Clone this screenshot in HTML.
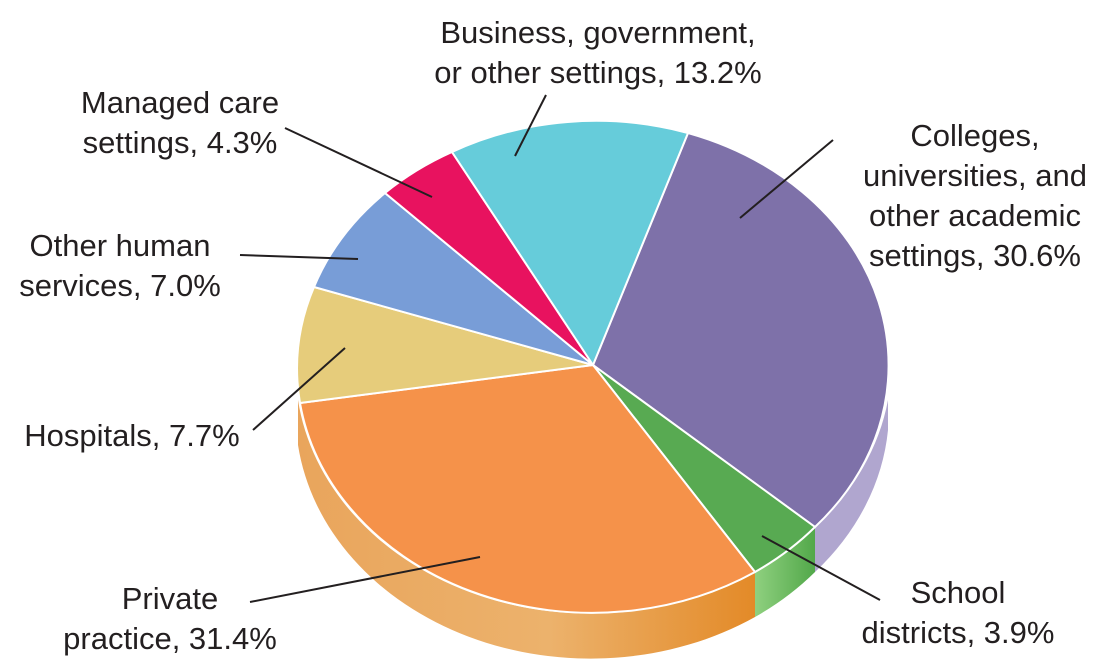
<!DOCTYPE html>
<html><head><meta charset="utf-8"><style>
body{margin:0;background:#fff;width:1099px;height:664px;overflow:hidden}
text{font-family:"Liberation Sans",sans-serif;font-size:31px;fill:#231f20}
</style></head><body>
<svg width="1099" height="664" viewBox="0 0 1099 664">
<defs>
<linearGradient id="og" x1="298" y1="0" x2="755" y2="0" gradientUnits="userSpaceOnUse">
<stop offset="0" stop-color="#e9a55c"/><stop offset="0.55" stop-color="#ecb26c"/><stop offset="1" stop-color="#e38a28"/></linearGradient>
<linearGradient id="gg" x1="755" y1="0" x2="815" y2="0" gradientUnits="userSpaceOnUse">
<stop offset="0" stop-color="#8fd07f"/><stop offset="1" stop-color="#52a84a"/></linearGradient>
</defs>
<path d="M298,400 A295,245 0 0 0 755,572 L755,617 A295,245 0 0 1 298,445 Z" fill="url(#og)"/>
<path d="M755,572 A295,245 0 0 0 815,527 L815,572 A295,245 0 0 1 755,617 Z" fill="url(#gg)"/>
<path d="M815,527 A295,245 0 0 0 888,400 L888,430 A295,245 0 0 1 815,572 Z" fill="#b0a6cf"/>
<g stroke="#fff" stroke-width="2">
<path d="M593,365 L688,133 A295,245 0 0 1 815,527 Z" fill="#7e71a9"/>
<path d="M593,365 L815,527 A295,245 0 0 1 755,572 Z" fill="#58aa52"/>
<path d="M593,365 L755,572 A295,245 0 0 1 300,403 Z" fill="#f5924a"/>
<path d="M593,365 L300,403 A295,245 0 0 1 314,287 Z" fill="#e6cc7b"/>
<path d="M593,365 L314,287 A295,245 0 0 1 385,193 Z" fill="#789dd7"/>
<path d="M593,365 L385,193 A295,245 0 0 1 452,152 Z" fill="#e8125f"/>
<path d="M593,365 L452,152 A295,245 0 0 1 688,133 Z" fill="#66ccda"/>
</g>
<g stroke="#231f20" stroke-width="2">
<line x1="515" y1="156" x2="546" y2="95"/>
<line x1="285" y1="128" x2="432" y2="197"/>
<line x1="240" y1="255" x2="358" y2="259"/>
<line x1="253" y1="430" x2="345" y2="348"/>
<line x1="250" y1="602" x2="480" y2="557"/>
<line x1="762" y1="536" x2="880" y2="600"/>
<line x1="740" y1="218" x2="833" y2="140"/>
</g>
<text x="598" y="43" text-anchor="middle">Business, government,</text>
<text x="598" y="83" text-anchor="middle">or other settings, 13.2%</text>
<text x="180" y="113" text-anchor="middle">Managed care</text>
<text x="180" y="153" text-anchor="middle">settings, 4.3%</text>
<text x="120" y="256" text-anchor="middle">Other human</text>
<text x="120" y="296" text-anchor="middle">services, 7.0%</text>
<text x="132" y="446" text-anchor="middle">Hospitals, 7.7%</text>
<text x="170" y="609" text-anchor="middle">Private</text>
<text x="170" y="649" text-anchor="middle">practice, 31.4%</text>
<text x="975" y="146" text-anchor="middle">Colleges,</text>
<text x="975" y="186" text-anchor="middle">universities, and</text>
<text x="975" y="226" text-anchor="middle">other academic</text>
<text x="975" y="266" text-anchor="middle">settings, 30.6%</text>
<text x="958" y="603" text-anchor="middle">School</text>
<text x="958" y="643" text-anchor="middle">districts, 3.9%</text>
</svg>
</body></html>
